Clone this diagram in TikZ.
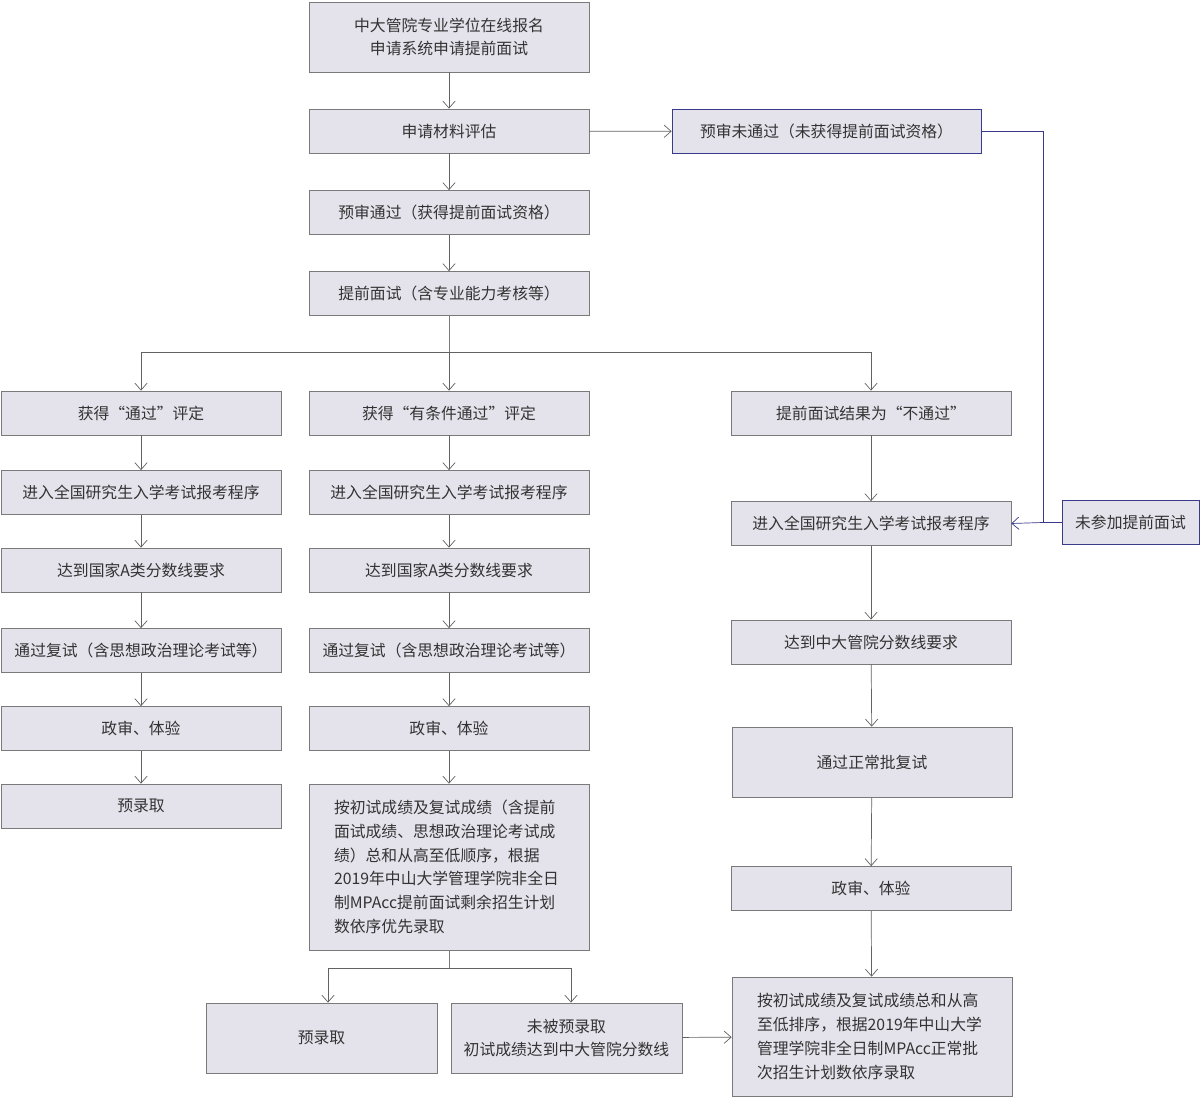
\documentclass[tikz,border=0pt]{standalone}
\usepackage{fontspec}
\setmainfont{Noto Sans CJK SC}
\usetikzlibrary{arrows.meta}
\definecolor{boxfill}{HTML}{E4E3EC}
\definecolor{boxline}{HTML}{7A7A7A}
\definecolor{navy}{HTML}{3A3A8A}
\definecolor{txt}{HTML}{333333}
\begin{document}
\begin{tikzpicture}[x=0.02cm,y=-0.02cm,
  box/.style={draw=boxline,fill=boxfill,minimum width=5.6cm,minimum height=0.88cm,
    inner sep=0pt,font=\fontsize{9}{13.5}\selectfont,text=txt,align=center},
  navybox/.style={box,draw=navy},
  link/.style={draw=boxline!80!black,-{Straight Barb[length=4pt,width=7pt]}},
  navylink/.style={draw=navy,-{Straight Barb[length=4pt,width=7pt]}}]
\useasboundingbox (0,0) rectangle (1201,1097);
% top column
\node[box,minimum height=1.4cm] (apply) at (449,37) {中大管院专业学位在线报名\\申请系统申请提前面试};
\node[box] (assess) at (449,131) {申请材料评估};
\node[navybox,minimum width=6.18cm] (fail) at (826.5,131.5) {预审未通过（未获得提前面试资格）};
\node[box] (pass) at (449,212.5) {预审通过（获得提前面试资格）};
\node[box] (interview) at (449,293.5) {提前面试（含专业能力考核等）};
% left column
\node[box] (l1) at (141,413) {获得“通过”评定};
\node[box] (l2) at (141,492.5) {进入全国研究生入学考试报考程序};
\node[box] (l3) at (141,570) {达到国家A类分数线要求};
\node[box] (l4) at (141,650.5) {通过复试（含思想政治理论考试等）};
\node[box] (l5) at (141,728.5) {政审、体验};
\node[box] (l6) at (141,806) {预录取};
% middle column
\node[box] (m1) at (449,413) {获得“有条件通过”评定};
\node[box] (m2) at (449,492.5) {进入全国研究生入学考试报考程序};
\node[box] (m3) at (449,570) {达到国家A类分数线要求};
\node[box] (m4) at (449,650.5) {通过复试（含思想政治理论考试等）};
\node[box] (m5) at (449,728.5) {政审、体验};
\node[box,minimum height=3.32cm,align=left,text width=4.6cm] (m6) at (449,867)
  {按初试成绩及复试成绩（含提前\\面试成绩、思想政治理论考试成\\绩）总和从高至低顺序，根据\\2019年中山大学管理学院非全日\\制MPAcc提前面试剩余招生计划\\数依序优先录取};
\node[box,minimum width=4.62cm,minimum height=1.4cm] (pre) at (321.5,1038) {预录取};
\node[box,minimum width=4.62cm,minimum height=1.4cm] (notpre) at (566.5,1038) {未被预录取\\初试成绩达到中大管院分数线};
% right column
\node[box] (r1) at (871,413) {提前面试结果为“不通过”};
\node[box] (r2) at (871,523.5) {进入全国研究生入学考试报考程序};
\node[navybox,minimum width=2.74cm] (absent) at (1130.5,522.5) {未参加提前面试};
\node[box] (r3) at (871,642) {达到中大管院分数线要求};
\node[box,minimum height=1.4cm] (r4) at (872,762) {通过正常批复试};
\node[box] (r5) at (871,888.5) {政审、体验};
\node[box,minimum height=2.38cm,align=left,text width=4.6cm] (r6) at (872,1036.5)
  {按初试成绩及复试成绩总和从高\\至低排序，根据2019年中山大学\\管理学院非全日制MPAcc正常批\\次招生计划数依序录取};
% connectors
\draw[link] (apply) -- (assess);
\draw[link] (assess) -- (pass);
\draw[link] (pass) -- (interview);
\draw[link] (assess) -- (fail);
\draw[boxline] (interview) -- (449,352);
\draw[link] (449,352) -| (l1);
\draw[link] (449,352) -| (r1);
\draw[link] (449,352) -- (m1);
\foreach \a/\b in {l1/l2,l2/l3,l3/l4,l4/l5,l5/l6,m1/m2,m2/m3,m3/m4,m4/m5,m5/m6,r1/r2,r2/r3,r3/r4,r4/r5,r5/r6}
  \draw[link] (\a) -- (\b);
\draw[boxline] (m6) -- (449,968);
\draw[link] (449,968) -| (pre.north -| 328,0);
\draw[link] (449,968) -| (notpre.north -| 571,0);
\draw[link] (notpre) -- (r6);
\coordinate (join) at (1043,522.5);
\draw[navy] (fail.east) -| (join);
\draw[navy] (absent.west) -- (join);
\draw[navylink] (join) -- (r2.east);
\end{tikzpicture}
\end{document}
